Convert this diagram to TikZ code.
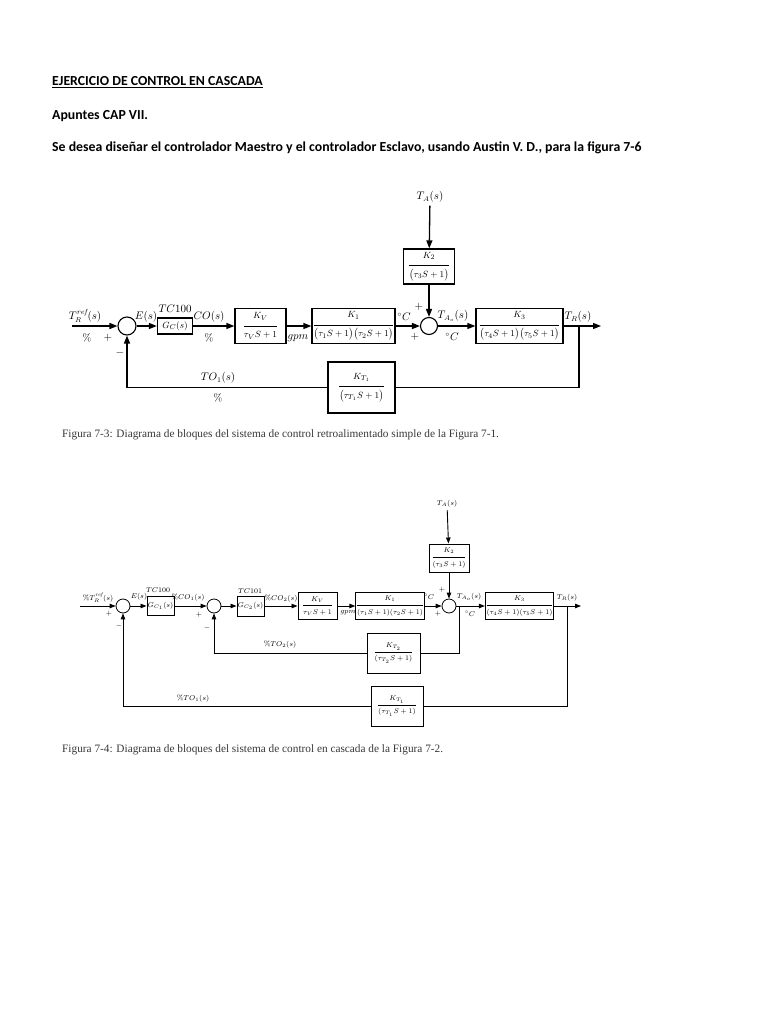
\documentclass[tikz,border=0pt]{standalone}
\usepackage{fontspec}
\usetikzlibrary{arrows.meta}
\newfontfamily\hdrfont{Carlito}
\newfontfamily\capfont{Liberation Serif}
\newcommand{\tfr}[2]{$\displaystyle\frac{#1\rule[-5.5pt]{0pt}{0pt}}{\rule{0pt}{10.5pt}#2}$}
\newcommand{\sfr}[2]{$\displaystyle\frac{#1\rule[-3pt]{0pt}{0pt}}{\rule{0pt}{7.5pt}#2}$}
\begin{document}
\begin{tikzpicture}[x=1pt,y=-1pt]
\tikzset{
 ln/.style={line width=1.3pt},
 ar/.style={ln,-{Triangle[length=8pt,width=6pt]}},
 bx/.style 2 args={draw, line width=1.3pt, minimum width=#1pt, minimum height=#2pt, inner sep=0pt},
 sm/.style={draw, circle, line width=1.1pt, minimum size=#1pt, inner sep=0pt},
 lb/.style={inner sep=0pt, font=\fontsize{10.5}{12}\selectfont},
 fr/.style={font=\fontsize{9.5}{11}\selectfont},
 lnb/.style={line width=0.9pt},
 arb/.style={lnb,-{Triangle[length=6pt,width=4.5pt]}},
 bxb/.style 2 args={draw, line width=1pt, minimum width=#1pt, minimum height=#2pt, inner sep=0pt, font=\fontsize{7}{8}\selectfont},
 smb/.style={draw, circle, line width=0.8pt, minimum size=#1pt, inner sep=0pt},
 lbb/.style={inner sep=0pt, font=\fontsize{7.5}{9}\selectfont},
 hdr/.style={anchor=west, inner sep=0pt, font=\hdrfont\bfseries\fontsize{13.8}{16}\selectfont},
 capt/.style={anchor=west, inner sep=0pt, text=black!78, font=\capfont\fontsize{11.3}{13}\selectfont}
}
\useasboundingbox[fill=white] (0,0) rectangle (768,1024);

% ---------- header ----------
\node[hdr] (h1) at (52,82) {\underline{EJERCICIO DE CONTROL EN CASCADA}};
\node[hdr] (h2) at (52,116) {Apuntes CAP VII.};
\node[hdr] (h3) at (52,148) {Se desea diseñar el controlador Maestro y el controlador Esclavo, usando Austin V. D., para la figura 7-6};

% ---------- top diagram ----------
\coordinate (in1) at (72,326);
\node[sm=18] (s1) at (127,326) {};
\node[bx={35}{16}, fr] (gc) at (175,326) {$G_C(s)$};
\node[bx={51}{35}, fr] (kv) at (260.5,326) {\tfr{K_V}{\tau_V S+1}};
\node[bx={83}{35}, fr] (k1) at (353.5,326) {\tfr{K_1}{\bigl(\tau_1 S+1\bigr)\bigl(\tau_2 S+1\bigr)}};
\node[sm=17] (s2) at (429,326) {};
\node[bx={51}{35}, fr] (k2) at (429,266.5) {\tfr{K_2}{\bigl(\tau_3 S+1\bigr)}};
\node[lb, inner sep=3pt] (ta) at (430,197) {$T_A(s)$};
\node[bx={87}{35}, fr] (k3) at (519.5,326) {\tfr{K_3}{\bigl(\tau_4 S+1\bigr)\bigl(\tau_5 S+1\bigr)}};
\coordinate (out1) at (601,326);
\coordinate (tk1) at (579,326);
\node[bx={67}{51}, fr] (kt) at (361.5,387.5) {\tfr{K_{T_1}}{\bigl(\tau_{T_1} S+1\bigr)}};

\draw[ar] (in1) -- (s1);
\draw[ar] (s1) -- (gc);
\draw[ar] (gc) -- (kv);
\draw[ar] (kv) -- (k1);
\draw[ar] (k1) -- (s2);
\draw[ar] (ta) -- (k2);
\draw[ar] (k2) -- (s2);
\draw[ar] (s2) -- (k3);
\draw[ar] (k3) -- (out1);
\draw[ln] (tk1) |- (kt.east);
\draw[ar] (kt.west) -| (s1.south);

\node[lb] (l1) at (85,316) {$T_R^{\mathit{ref}}(s)$};
\node[lb] (l2) at (87,338) {\%};
\node[lb] (l3) at (108,338) {$+$};
\node[lb] (l4) at (120,353) {$-$};
\node[lb] (l5) at (146,317) {$E(s)$};
\node[lb] (l6) at (175,309) {$TC100$};
\node[lb] (l7) at (209,317) {$CO(s)$};
\node[lb] (l8) at (209,338) {\%};
\node[lb] (l9) at (298,338) {$gpm$};
\node[lb] (l10) at (404,317) {$^{\circ}C$};
\node[lb] (l11) at (419,307) {$+$};
\node[lb] (l12) at (415,337) {$+$};
\node[lb] (l13) at (453,316) {$T_{A_o}(s)$};
\node[lb] (l14) at (452,337) {$^{\circ}C$};
\node[lb] (l15) at (578,317) {$T_R(s)$};
\node[lb] (l16) at (218,378) {$TO_1(s)$};
\node[lb] (l17) at (218,398) {\%};

\node[capt] (c1) at (62,435) {Figura 7-3: Diagrama de bloques del sistema de control retroalimentado simple de la Figura 7-1.};

% ---------- bottom diagram ----------
\coordinate (in2) at (80,606);
\node[smb=14] (b1) at (123,606) {};
\node[bxb={27}{19}] (g1) at (160.5,606) {$G_{C_1}(s)$};
\node[smb=14] (b2) at (214,606) {};
\node[bxb={27}{20}] (g2) at (250.5,606) {$G_{C_2}(s)$};
\node[bxb={39}{27}] (bkv) at (317.5,606) {\sfr{K_V}{\tau_V S+1}};
\node[bxb={66}{27}] (bk1) at (390,606) {\sfr{K_1}{(\tau_1 S+1)(\tau_2 S+1)}};
\node[smb=14] (b3) at (449,606) {};
\node[bxb={40}{28}] (bk2) at (449,558) {\sfr{K_2}{(\tau_3 S+1)}};
\node[lbb, inner sep=2.5pt] (bta) at (447,504) {$T_A(s)$};
\node[bxb={67}{27}] (bk3) at (519.5,606) {\sfr{K_3}{(\tau_4 S+1)(\tau_5 S+1)}};
\coordinate (out2) at (581,606);
\coordinate (tk2) at (567,606);
\coordinate (tk3) at (459,606);
\node[bxb={53}{40}] (kt2) at (393.5,653) {\sfr{K_{T_2}}{(\tau_{T_2} S+1)}};
\node[bxb={52}{40}] (kt1) at (397,706) {\sfr{K_{T_1}}{(\tau_{T_1} S+1)}};

\draw[arb] (in2) -- (b1);
\draw[arb] (b1) -- (g1);
\draw[arb] (g1) -- (b2);
\draw[arb] (b2) -- (g2);
\draw[arb] (g2) -- (bkv);
\draw[arb] (bkv) -- (bk1);
\draw[arb] (bk1) -- (b3);
\draw[arb] (bta) -- (bk2);
\draw[arb] (bk2) -- (b3);
\draw[arb] (b3) -- (bk3);
\draw[arb] (bk3) -- (out2);
\draw[lnb] (tk3) |- (kt2.east);
\draw[arb] (kt2.west) -| (b2.south);
\draw[lnb] (tk2) |- (kt1.east);
\draw[arb] (kt1.west) -| (b1.south);

\node[lbb] (m1) at (98,598) {$\%T_R^{\mathit{ref}}(s)$};
\node[lbb] (m2) at (109,614) {$+$};
\node[lbb] (m3) at (119,626) {$-$};
\node[lbb] (m4) at (139,597) {$E(s)$};
\node[lbb] (m5) at (158,590) {$TC100$};
\node[lbb] (m6) at (188,598) {$\%CO_1(s)$};
\node[lbb] (m7) at (199,615) {$+$};
\node[lbb] (m8) at (207,628) {$-$};
\node[lbb] (m9) at (250,591) {$TC101$};
\node[lbb] (m10) at (281,599) {$\%CO_2(s)$};
\node[lbb] (m11) at (348,613) {$gpm$};
\node[lbb] (m12) at (429,597) {$^{\circ}C$};
\node[lbb] (m13) at (442,590) {$+$};
\node[lbb] (m14) at (438,614) {$+$};
\node[lbb] (m15) at (469,597) {$T_{A_o}(s)$};
\node[lbb] (m16) at (470,614) {$^{\circ}C$};
\node[lbb] (m17) at (567,598) {$T_R(s)$};
\node[lbb] (m18) at (280,645) {$\%TO_2(s)$};
\node[lbb] (m19) at (193,699) {$\%TO_1(s)$};

\node[capt] (c2) at (62,750) {Figura 7-4: Diagrama de bloques del sistema de control en cascada de la Figura 7-2.};
\end{tikzpicture}
\end{document}
